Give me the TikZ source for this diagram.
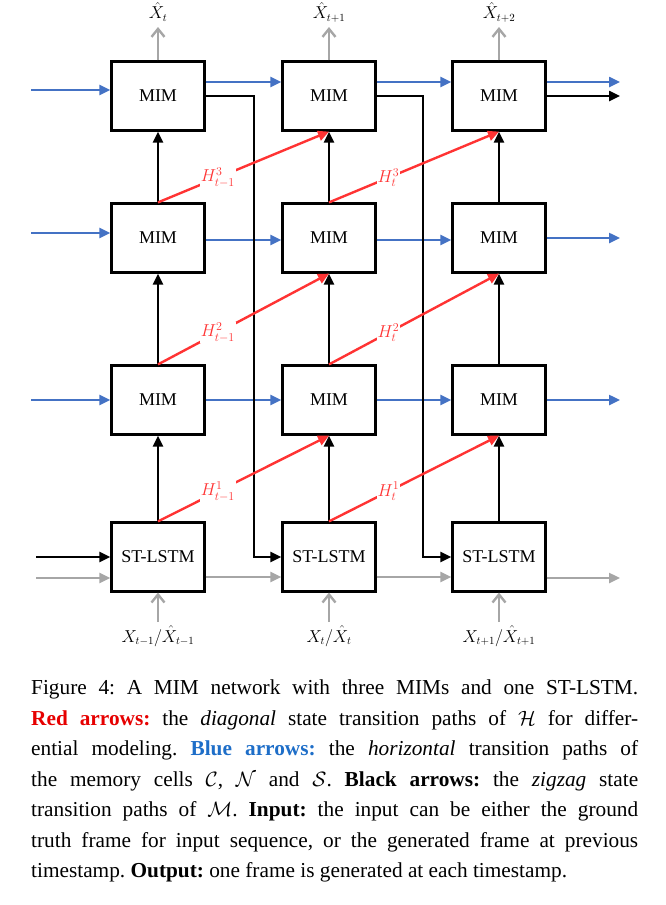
\documentclass[tikz,border=0pt]{standalone}
\usepackage{fontspec}
\setmainfont{Liberation Serif}
\usetikzlibrary{arrows.meta,calc}
\definecolor{bl}{RGB}{68,114,196}
\definecolor{rd}{RGB}{255,51,51}
\definecolor{gr}{RGB}{166,166,166}
\definecolor{capred}{RGB}{230,0,0}
\definecolor{capblue}{RGB}{30,110,200}
\begin{document}
\begin{tikzpicture}[x=1pt,y=-1pt,
 box/.style={draw,line width=2.2pt,minimum width=93pt,minimum height=69pt,inner sep=0pt,font=\fontsize{18}{20}\selectfont},
 ar/.style={line width=2.4pt,-{Triangle[length=11pt,width=10pt]}},
 ba/.style={ar,black},
 bu/.style={ar,bl},
 ra/.style={ar,rd},
 ga/.style={ar,gr},
 go/.style={line width=2.4pt,gr,-{Straight Barb[length=8pt,width=13pt]}},
 hl/.style={fill=white,text=rd,inner sep=1pt,font=\fontsize{18}{20}\selectfont},
 xl/.style={inner sep=0pt,font=\fontsize{16}{18}\selectfont}]
\useasboundingbox (0,0) rectangle (666,905);
\foreach \c/\x in {1/158,2/329,3/499}{
 \node[box] (r1c\c) at (\x,96) {MIM};
 \node[box] (r2c\c) at (\x,238) {MIM};
 \node[box] (r3c\c) at (\x,400) {MIM};
 \node[box] (r4c\c) at (\x,557) {ST-LSTM};
 \draw[ba] (r2c\c.north) -- (r1c\c.south);
 \draw[ba] (r3c\c.north) -- (r2c\c.south);
 \draw[ba] (r4c\c.north) -- (r3c\c.south);
 \coordinate (top\c) at (\x,27);
 \coordinate (bot\c) at (\x,622);
 \draw[go] (r1c\c.north) -- (top\c);
 \draw[go] (bot\c) -- (r4c\c.south);
}
\node[xl] (o1) at (158,12) {$\hat{X}_{t}$};
\node[xl] (o2) at (329,12) {$\hat{X}_{t+1}$};
\node[xl] (o3) at (499,12) {$\hat{X}_{t+2}$};
\node[xl] (i1) at (158,636) {$X_{t-1}/\hat{X}_{t-1}$};
\node[xl] (i2) at (329,636) {$X_{t}/\hat{X}_{t}$};
\node[xl] (i3) at (499,636) {$X_{t+1}/\hat{X}_{t+1}$};
% left inputs
\coordinate (in1) at (31,90); \coordinate (in2) at (31,233); \coordinate (in3) at (31,400);
\coordinate (in4) at (36,557); \coordinate (in5) at (36,578);
\draw[bu] (in1) -- (r1c1.west |- in1);
\draw[bu] (in2) -- (r2c1.west |- in2);
\draw[bu] (in3) -- (r3c1.west |- in3);
\draw[ba] (in4) -- (r4c1.west);
\draw[ga] (in5) -- (r4c1.west |- in5);
% horizontal blue
\coordinate (h1) at (0,82); \coordinate (h2) at (0,240); \coordinate (h3) at (0,400); \coordinate (h4) at (0,577);
\draw[bu] (r1c1.east |- h1) -- (r1c2.west |- h1);
\draw[bu] (r1c2.east |- h1) -- (r1c3.west |- h1);
\draw[bu] (r2c1.east |- h2) -- (r2c2.west |- h2);
\draw[bu] (r2c2.east |- h2) -- (r2c3.west |- h2);
\draw[bu] (r3c1.east) -- (r3c2.west);
\draw[bu] (r3c2.east) -- (r3c3.west);
\draw[ga] (r4c1.east |- h4) -- (r4c2.west |- h4);
\draw[ga] (r4c2.east |- h4) -- (r4c3.west |- h4);
\coordinate (e1) at (620,82); \coordinate (e2) at (620,238); \coordinate (e3) at (620,400);
\coordinate (eb) at (620,96); \coordinate (eg) at (620,578);
\draw[bu] (r1c3.east |- e1) -- (e1);
\draw[ba] (r1c3.east) -- (eb);
\draw[bu] (r2c3.east |- e2) -- (e2);
\draw[bu] (r3c3.east) -- (e3);
\draw[ga] (r4c3.east |- eg) -- (eg);
% zigzag
\coordinate (z1) at (254,96); \coordinate (z2) at (423,96);
\draw[ba] (r1c1.east) -- (z1) |- (r4c2.west);
\draw[ba] (r1c2.east) -- (z2) |- (r4c3.west);
% red diagonals
\draw[ra] (r4c1.north) -- node[hl,pos=0.35] {$H^{1}_{t-1}$} (r3c2.south);
\draw[ra] (r4c2.north) -- node[hl,pos=0.35] {$H^{1}_{t}$} (r3c3.south);
\draw[ra] (r3c1.north) -- node[hl,pos=0.35] {$H^{2}_{t-1}$} (r2c2.south);
\draw[ra] (r3c2.north) -- node[hl,pos=0.35] {$H^{2}_{t}$} (r2c3.south);
\draw[ra] (r2c1.north) -- node[hl,pos=0.35] {$H^{3}_{t-1}$} (r1c2.south);
\draw[ra] (r2c2.north) -- node[hl,pos=0.35] {$H^{3}_{t}$} (r1c3.south);
% caption
\node[anchor=north west,text width=607pt,align=justify,inner sep=0pt,
 font=\fontsize{21.3}{30.5}\selectfont\frenchspacing] (cap) at (31,680) {%
Figure 4: A MIM network with three MIMs and one ST-LSTM.\linebreak
\textbf{\color{capred}Red arrows:} the \textit{diagonal} state transition paths of $\mathcal{H}$ for differ-\linebreak
ential modeling. \textbf{\color{capblue}Blue arrows:} the \textit{horizontal} transition paths of\linebreak
the memory cells $\mathcal{C}$, $\mathcal{N}$ and $\mathcal{S}$. \textbf{Black arrows:} the \textit{zigzag} state\linebreak
transition paths of $\mathcal{M}$. \textbf{Input:} the input can be either the ground\linebreak
truth frame for input sequence, or the generated frame at previous\linebreak
timestamp. \textbf{Output:} one frame is generated at each timestamp.\hfill\null};
\end{tikzpicture}
\end{document}
